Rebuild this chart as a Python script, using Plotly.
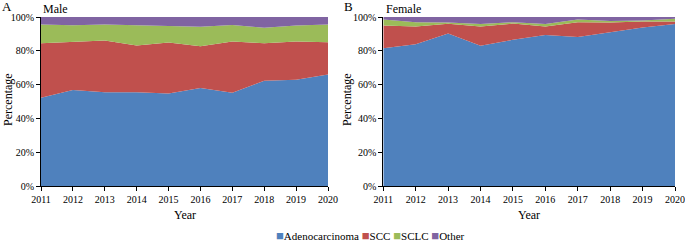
import plotly.graph_objects as go
from plotly.subplots import make_subplots

years = [2011, 2012, 2013, 2014, 2015, 2016, 2017, 2018, 2019, 2020]
series = ["Adenocarcinoma", "SCC", "SCLC", "Other"]
colors = ["#4F81BD", "#C0504D", "#9BBB59", "#8064A2"]

# Male (percent)
male_adeno = [52.2, 56.8, 55.4, 55.4, 54.8, 58.0, 55.2, 62.3, 62.9, 66.0]
male_scc = [32.3, 28.3, 30.7, 27.8, 30.1, 24.7, 30.3, 22.2, 22.6, 19.1]
male_sclc = [11.0, 10.0, 9.4, 11.9, 10.2, 11.6, 9.7, 9.2, 9.5, 10.4]
male_other = [4.5, 4.9, 4.5, 4.9, 4.9, 5.7, 4.8, 6.3, 5.0, 4.5]

# Female (percent)
female_adeno = [81.5, 83.9, 90.2, 83.0, 86.5, 89.4, 88.2, 91.0, 93.8, 95.8]
female_scc = [13.5, 10.5, 5.8, 11.4, 9.6, 5.0, 8.7, 5.8, 3.5, 1.5]
female_sclc = [3.5, 2.5, 0.7, 1.5, 0.8, 1.4, 1.6, 0.8, 0.6, 1.7]
female_other = [1.5, 3.1, 3.3, 4.1, 3.1, 4.2, 1.5, 2.4, 2.1, 1.0]

male = [male_adeno, male_scc, male_sclc, male_other]
female = [female_adeno, female_scc, female_sclc, female_other]

W, H = 685, 245
ML, MR, MT, MB = 41, 10, 17, 59
PW, PH = W - ML - MR, H - MT - MB

def px_x(x):
    return (x - ML) / PW

def px_y(y):
    return 1 - (y - MT) / PH

fig = make_subplots(rows=1, cols=2)

for i, name in enumerate(series):
    fig.add_trace(go.Scatter(x=years, y=male[i], name=name, mode="lines",
                             stackgroup="m", line=dict(width=0, color=colors[i]),
                             fillcolor=colors[i], showlegend=False),
                  row=1, col=1)
    fig.add_trace(go.Scatter(x=years, y=female[i], name=name, mode="lines",
                             stackgroup="f", line=dict(width=0, color=colors[i]),
                             fillcolor=colors[i], showlegend=False),
                  row=1, col=2)

FF = "Liberation Serif"
axis_common = dict(showgrid=False, zeroline=False, showline=True, linecolor="black",
                   linewidth=1, ticks="outside", ticklen=4, tickcolor="black",
                   automargin=False,
                   tickfont=dict(size=10, color="black", family=FF))

fig.update_xaxes(range=[2011, 2020], tickmode="array", tickvals=years,
                 ticktext=[str(y) for y in years], **axis_common)
fig.update_yaxes(range=[0, 100], tickmode="array", tickvals=[0, 20, 40, 60, 80, 100],
                 ticktext=["0%", "20%", "40%", "60%", "80%", "100%"], **axis_common)

fig.update_layout(
    xaxis=dict(domain=[0, px_x(328)]),
    xaxis2=dict(domain=[px_x(383.3), 1]),
)

ann = []
def add(text, x, y, size, xanchor="left", angle=0):
    ann.append(dict(text=text, x=px_x(x), y=px_y(y), xref="paper", yref="paper",
                    showarrow=False, xanchor=xanchor, yanchor="middle", textangle=angle,
                    font=dict(size=size, color="black", family=FF)))

add("A", 0, 7, 13)
add("Male", 41, 9, 12)
add("B", 342, 7, 13)
add("Female", 384, 9, 12)
add("Percentage", 8, 100, 12, xanchor="center", angle=-90)
add("Percentage", 347, 100, 12, xanchor="center", angle=-90)
add("Year", 185, 215, 12, xanchor="center")
add("Year", 529, 215, 12, xanchor="center")

legend_text = "&nbsp;".join(
    f'<span style="color:{c};font-size:13px">■</span>{n}'
    for n, c in zip(series, colors)
)
add(legend_text, 370, 235, 11, xanchor="center")

fig.update_layout(
    width=W, height=H,
    margin=dict(l=ML, r=MR, t=MT, b=MB),
    paper_bgcolor="white", plot_bgcolor="white",
    font=dict(family=FF, color="black"),
    annotations=ann,
    showlegend=False,
)

fig.write_html("out.html", config={"displayModeBar": False},
               post_script="document.body.style.margin='0';document.body.style.padding='0';")
